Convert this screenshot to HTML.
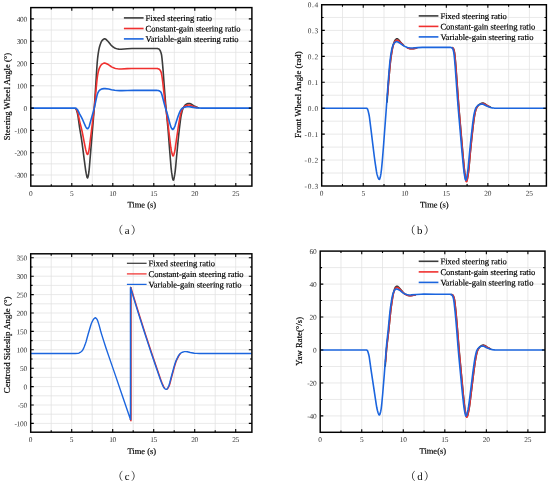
<!DOCTYPE html>
<html><head><meta charset="utf-8"><title>Figure</title>
<style>html,body{margin:0;padding:0;background:#fff}svg{display:block}text{font-family:'Liberation Serif','Noto Serif CJK SC',serif}</style>
</head><body>
<svg width="550" height="484" viewBox="0 0 550 484">
<rect width="550" height="484" fill="#fff"/>
<g><path d="M51.30,7.60V186.10M71.80,7.60V186.10M92.30,7.60V186.10M112.80,7.60V186.10M133.30,7.60V186.10M153.80,7.60V186.10M174.30,7.60V186.10M194.80,7.60V186.10M215.30,7.60V186.10M235.80,7.60V186.10M30.80,175.00H251.90M30.80,152.70H251.90M30.80,130.40H251.90M30.80,108.10H251.90M30.80,85.80H251.90M30.80,63.50H251.90M30.80,41.20H251.90M30.80,18.90H251.90M30.80,163.85H251.90M30.80,141.55H251.90M30.80,119.25H251.90M30.80,96.95H251.90M30.80,74.65H251.90M30.80,52.35H251.90M30.80,30.05H251.90" stroke="#e1e1e1" stroke-width="0.75" fill="none"/>
<clipPath id="clip0"><rect x="30.8" y="7.6" width="221.1" height="178.5"/></clipPath>
<g clip-path="url(#clip0)" fill="none" stroke-width="1.6" stroke-linejoin="round">
<path d="M75.41,108.33L75.74,108.58L75.98,108.94L76.23,109.44L76.56,110.29L77.38,113.09L77.87,115.50L78.28,118.16L79.59,127.67L81.39,138.47L82.13,143.28L84.26,159.92L85.66,170.27L86.15,173.17L86.81,176.35L87.05,177.23L87.22,177.63L87.38,177.84L87.54,177.86L87.71,177.67L87.95,177.06L88.20,176.12L88.53,174.50L88.94,171.72L89.35,167.55L94.19,109.07L94.92,98.27L96.81,68.19L97.22,62.52L97.55,58.90L97.88,56.04L98.29,53.07L98.70,50.57L99.19,48.13L99.68,46.25L100.25,44.44L100.91,42.71L101.48,41.52L101.89,40.87L102.30,40.36L103.04,39.60L103.62,39.13L104.03,38.90L104.44,38.78L104.85,38.79L105.26,38.92L105.75,39.21L106.24,39.61L108.13,41.45L108.95,42.40L111.16,45.29L111.82,45.96L112.80,46.74L114.19,47.71L115.42,48.34L116.00,48.53L116.98,48.78L118.79,49.13L119.85,49.22L121.08,49.21L127.31,48.68L131.99,48.50L135.27,48.45L144.62,48.56L157.33,48.56L157.74,48.60L158.15,48.70L158.56,48.89L159.05,49.19L159.54,49.64L160.03,50.38L160.52,51.42L161.02,52.79L161.34,53.97L161.59,55.20L162.00,58.31L162.49,63.40L163.07,70.13L164.38,87.89L165.69,104.26L168.07,129.75L169.63,149.97L171.02,167.05L171.59,172.20L172.33,176.97L172.82,179.24L173.07,179.89L173.23,180.09L173.32,180.12L173.48,180.02L173.73,179.52L174.14,177.91L174.79,174.18L175.28,170.59L175.69,166.65L176.76,154.73L178.40,137.68L179.30,129.39L180.37,120.56L180.86,117.16L181.35,114.45L182.09,111.26L182.75,109.11L183.24,107.97L183.98,106.69L184.71,105.64L185.45,104.82L186.03,104.36L186.68,104.03L187.91,103.62L188.90,103.44L189.72,103.47L190.54,103.74L191.36,104.20L193.57,105.66L196.44,106.99L197.83,107.49L199.23,107.76" stroke="#3c3c3c"/>
<path d="M75.74,108.42L75.98,108.66L76.23,108.99L76.80,110.06L77.46,111.64L77.87,113.01L78.28,114.78L79.59,121.09L81.39,128.27L82.13,131.46L84.26,142.51L85.66,149.38L86.15,151.31L86.81,153.42L87.05,154.00L87.22,154.27L87.38,154.41L87.54,154.42L87.71,154.30L87.95,153.89L88.20,153.27L88.53,152.19L88.94,150.35L89.35,147.57L94.19,108.76L94.92,101.60L96.81,81.71L97.22,77.97L97.55,75.60L97.88,73.72L98.29,71.80L98.70,70.18L99.11,68.85L99.52,67.80L100.09,66.63L100.66,65.65L101.24,64.86L101.65,64.43L102.06,64.10L103.37,63.37L103.86,63.19L104.27,63.09L104.68,63.07L105.17,63.14L106.08,63.45L108.29,64.57L109.11,65.09L111.41,66.75L112.06,67.11L113.62,67.80L114.77,68.24L115.75,68.51L117.64,68.81L119.11,68.97L121.25,68.99L127.23,68.65L131.74,68.52L134.86,68.49L144.37,68.56L157.08,68.57L157.90,68.66L158.80,68.98L159.29,69.28L159.79,69.77L160.28,70.47L160.77,71.38L161.10,72.16L161.34,72.97L161.75,75.04L162.25,78.42L162.82,82.89L164.13,94.68L165.44,105.55L167.82,122.48L169.38,135.90L170.77,147.24L171.35,150.66L172.09,153.83L172.58,155.34L172.82,155.77L173.07,155.92L173.23,155.85L173.48,155.52L173.89,154.46L174.55,151.98L175.04,149.59L175.45,146.98L176.51,139.06L178.15,127.74L178.97,122.71L180.04,116.78L180.53,114.46L181.02,112.59L181.68,110.63L182.34,109.08L182.83,108.24L183.40,107.52L184.22,106.68L185.04,106.03L185.62,105.69L186.27,105.44L187.42,105.17L188.40,105.03L189.31,105.01L190.21,105.18L191.03,105.47L193.49,106.54L196.03,107.32L197.42,107.66" stroke="#f0302f"/>
<path d="M30.80,108.10L74.10,108.10L75.24,108.15L75.82,108.27L76.31,108.55L76.88,109.05L77.46,109.68L77.87,110.30L78.28,111.09L79.59,113.91L81.39,117.12L82.13,118.55L84.26,123.49L85.66,126.57L86.15,127.43L86.81,128.37L87.22,128.75L87.54,128.82L87.71,128.76L87.95,128.58L88.53,127.82L88.94,127.00L89.35,125.76L94.19,108.41L94.84,105.59L96.81,96.37L97.14,95.02L97.47,93.91L97.79,93.04L98.12,92.33L98.53,91.58L98.94,90.97L99.35,90.49L99.76,90.12L100.34,89.69L100.83,89.40L101.57,89.08L102.30,88.90L103.94,88.66L105.09,88.64L108.62,89.08L111.57,89.76L114.77,90.29L116.74,90.47L119.52,90.61L121.90,90.60L127.23,90.45L133.71,90.38L156.67,90.42L157.90,90.50L158.56,90.62L159.05,90.77L159.54,91.00L160.03,91.33L160.52,91.75L160.85,92.13L161.10,92.54L161.34,93.10L161.75,94.29L162.41,96.52L163.80,102.10L165.12,106.96L167.49,114.53L169.05,120.53L170.45,125.61L171.02,127.14L171.76,128.56L172.25,129.23L172.50,129.42L172.74,129.49L172.91,129.46L173.15,129.31L173.56,128.83L174.22,127.73L174.71,126.66L175.12,125.49L176.27,121.69L177.99,116.41L179.38,112.76L180.29,110.79L180.70,110.11L181.19,109.43L181.68,108.86L182.17,108.40L182.66,108.06L183.40,107.68L184.22,107.34L184.96,107.10L185.78,106.93L187.09,106.79L188.32,106.72L189.22,106.73L190.45,106.88L193.16,107.40L196.44,107.84L198.16,107.97L201.61,108.09L251.87,108.10" stroke="#1b65de"/>
</g>
<path d="M71.80,186.10v-3.1M71.80,7.60v3.1M112.80,186.10v-3.1M112.80,7.60v3.1M153.80,186.10v-3.1M153.80,7.60v3.1M194.80,186.10v-3.1M194.80,7.60v3.1M235.80,186.10v-3.1M235.80,7.60v3.1M30.80,175.00h3.1M251.90,175.00h-3.1M30.80,152.70h3.1M251.90,152.70h-3.1M30.80,130.40h3.1M251.90,130.40h-3.1M30.80,108.10h3.1M251.90,108.10h-3.1M30.80,85.80h3.1M251.90,85.80h-3.1M30.80,63.50h3.1M251.90,63.50h-3.1M30.80,41.20h3.1M251.90,41.20h-3.1M30.80,18.90h3.1M251.90,18.90h-3.1M51.30,186.10v-1.9M51.30,7.60v1.9M92.30,186.10v-1.9M92.30,7.60v1.9M133.30,186.10v-1.9M133.30,7.60v1.9M174.30,186.10v-1.9M174.30,7.60v1.9M215.30,186.10v-1.9M215.30,7.60v1.9M30.80,163.85h1.9M251.90,163.85h-1.9M30.80,141.55h1.9M251.90,141.55h-1.9M30.80,119.25h1.9M251.90,119.25h-1.9M30.80,96.95h1.9M251.90,96.95h-1.9M30.80,74.65h1.9M251.90,74.65h-1.9M30.80,52.35h1.9M251.90,52.35h-1.9M30.80,30.05h1.9M251.90,30.05h-1.9" stroke="#000" stroke-width="1.1" fill="none"/>
<rect x="30.80" y="7.60" width="221.10" height="178.50" fill="none" stroke="#000" stroke-width="1.45"/>
<g font-size="7.4" fill="#333">
<text transform="translate(30.65,195.90) rotate(0.03)" text-anchor="middle" letter-spacing="-0.3">0</text>
<text transform="translate(71.65,195.90) rotate(0.03)" text-anchor="middle" letter-spacing="-0.3">5</text>
<text transform="translate(112.65,195.90) rotate(0.03)" text-anchor="middle" letter-spacing="-0.3">10</text>
<text transform="translate(153.65,195.90) rotate(0.03)" text-anchor="middle" letter-spacing="-0.3">15</text>
<text transform="translate(194.65,195.90) rotate(0.03)" text-anchor="middle" letter-spacing="-0.3">20</text>
<text transform="translate(235.65,195.90) rotate(0.03)" text-anchor="middle" letter-spacing="-0.3">25</text>
<text transform="translate(26.90,177.80) rotate(0.03)" text-anchor="end" letter-spacing="-0.3">-300</text>
<text transform="translate(26.90,155.50) rotate(0.03)" text-anchor="end" letter-spacing="-0.3">-200</text>
<text transform="translate(26.90,133.20) rotate(0.03)" text-anchor="end" letter-spacing="-0.3">-100</text>
<text transform="translate(26.90,110.90) rotate(0.03)" text-anchor="end" letter-spacing="-0.3">0</text>
<text transform="translate(26.90,88.60) rotate(0.03)" text-anchor="end" letter-spacing="-0.3">100</text>
<text transform="translate(26.90,66.30) rotate(0.03)" text-anchor="end" letter-spacing="-0.3">200</text>
<text transform="translate(26.90,44.00) rotate(0.03)" text-anchor="end" letter-spacing="-0.3">300</text>
<text transform="translate(26.90,21.70) rotate(0.03)" text-anchor="end" letter-spacing="-0.3">400</text>
</g>
<g font-size="8.55" fill="#000" stroke="#000" stroke-width="0.18">
<path d="M123.9,17.9h19.7" stroke="#3c3c3c" stroke-width="1.6" fill="none"/>
<text transform="translate(145.60,20.90) rotate(0.03)">Fixed steering ratio</text>
<path d="M123.9,28.5h19.7" stroke="#f0302f" stroke-width="1.6" fill="none"/>
<text transform="translate(145.60,31.50) rotate(0.03)">Constant-gain steering ratio</text>
<path d="M123.9,38.9h19.7" stroke="#1b65de" stroke-width="1.6" fill="none"/>
<text transform="translate(145.60,41.85) rotate(0.03)">Variable-gain steering ratio</text>
</g>
<text font-size="8.65" fill="#000" stroke="#000" stroke-width="0.18" text-anchor="middle" transform="translate(9.7,96.5) rotate(-90)">Steering Wheel Angle (°)</text>
<text transform="translate(141.80,207.40) rotate(0.03)" text-anchor="middle" font-size="8.5" stroke="#000" stroke-width="0.18">Time (s)</text>
<text transform="translate(127.10,233.90) rotate(0.03)" text-anchor="middle" font-size="10.8">（<tspan dx="1.4">a</tspan><tspan dx="1.3">）</tspan></text></g>
<g><path d="M342.47,4.75V186.00M363.24,4.75V186.00M384.01,4.75V186.00M404.78,4.75V186.00M425.55,4.75V186.00M446.32,4.75V186.00M467.09,4.75V186.00M487.86,4.75V186.00M508.63,4.75V186.00M529.40,4.75V186.00M321.70,160.06H546.40M321.70,134.13H546.40M321.70,108.20H546.40M321.70,82.27H546.40M321.70,56.34H546.40M321.70,30.41H546.40M321.70,173.03H546.40M321.70,147.09H546.40M321.70,121.17H546.40M321.70,95.23H546.40M321.70,69.31H546.40M321.70,43.38H546.40M321.70,17.45H546.40" stroke="#e1e1e1" stroke-width="0.75" fill="none"/>
<clipPath id="clip1"><rect x="321.7" y="4.75" width="224.7" height="181.25"/></clipPath>
<g clip-path="url(#clip1)" fill="none" stroke-width="1.6" stroke-linejoin="round">
<path d="M387.00,102.62L388.58,82.18L389.66,69.69L390.41,62.07L391.07,56.75L391.99,50.76L392.65,47.30L392.98,45.92L393.48,44.17L394.31,41.76L394.64,41.01L395.06,40.29L395.64,39.56L396.22,39.04L396.72,38.80L397.22,38.76L397.47,38.82L397.80,38.99L398.47,39.55L400.46,41.94L402.20,43.93L403.28,45.04L404.20,45.83M407.02,47.63L408.02,48.10L408.85,48.36L410.18,48.62L411.43,48.73L412.26,48.71L413.34,48.59L417.24,47.89M451.72,47.46L452.38,47.68L452.97,48.03L453.30,48.42L453.63,49.11L454.05,50.42L454.46,52.23L454.71,53.77L454.96,55.84L455.38,60.23L455.96,67.28L458.20,98.32L459.11,110.22L462.85,153.39L464.10,166.60L464.76,172.69L465.18,175.63L465.68,178.60L466.01,180.15L466.18,180.70L466.34,181.06L466.51,181.20L466.59,181.19L466.76,181.02L466.92,180.66L467.17,179.82L467.75,176.88L468.42,172.57L469.00,167.33L470.25,153.55L471.58,140.22L472.32,133.22L473.40,123.97L474.07,118.81L474.57,115.61L475.31,111.93L475.73,110.24L476.06,109.13L476.48,108.09L477.06,107.05L477.81,105.96L478.64,105.02L479.39,104.41L480.63,103.66L481.55,103.26L482.38,103.05L482.88,103.02L483.29,103.07L483.71,103.19L484.20,103.40L485.04,103.89L486.78,105.15L487.61,105.68L489.52,106.68L490.93,107.29" stroke="#3c3c3c"/>
<path d="M387.50,95.46L388.25,85.66L389.16,74.79L389.83,67.33L390.41,61.65L391.07,56.52L391.90,51.26L392.57,47.95L392.90,46.66L393.31,45.30L394.15,43.06L394.56,42.21L394.89,41.69L395.48,41.02L396.06,40.53L396.64,40.21L397.14,40.13L397.47,40.17L397.80,40.30L398.22,40.53L398.63,40.85L402.79,44.74L403.70,45.54M406.86,47.58L407.85,48.06L408.68,48.34L410.01,48.61L411.26,48.73L412.17,48.71L413.25,48.60L417.16,47.90M451.89,47.52L452.55,47.81L452.97,48.10L453.30,48.56L453.63,49.33L454.05,50.73L454.38,52.23L454.63,53.77L454.88,55.84L455.29,60.23L455.87,67.28L458.12,98.32L459.03,110.23L462.77,153.52L464.02,166.87L464.68,173.05L465.01,175.49L465.51,178.59L465.84,180.29L466.18,181.41L466.34,181.67L466.43,181.71L466.59,181.65L466.84,181.18L467.09,180.33L467.42,178.77L467.75,176.88L468.42,172.35L469.00,166.81L470.33,152.03L471.83,137.11L473.40,123.32L473.90,119.43L474.32,116.63L474.73,114.31L475.23,111.97L475.65,110.30L476.06,108.96L476.48,108.01L477.06,107.04L477.72,106.13L478.39,105.41M480.88,103.94L481.63,103.69L482.38,103.56L483.04,103.56L483.71,103.71L484.79,104.21L487.36,105.78L489.94,106.96" stroke="#f0302f"/>
<path d="M321.70,108.20L365.57,108.20L366.15,108.24L366.65,108.34L366.98,108.47L367.23,108.68L367.48,109.06L367.73,109.64L368.31,111.58L368.97,114.45L369.47,117.39L371.13,130.57L372.79,144.46L374.29,156.48L375.12,162.59L376.45,171.38L376.78,173.18L377.11,174.63L377.86,177.01L378.28,178.08L378.69,178.91L379.03,179.32L379.19,179.42L379.36,179.41L379.52,179.29L379.69,179.02L380.02,178.09L380.52,175.96L380.94,173.68L381.52,169.08L382.35,160.39L383.43,147.05L386.25,109.26L388.08,83.40L389.16,69.85L389.83,62.65L390.24,59.04L390.66,55.98L391.15,52.75L391.65,50.02L392.07,48.21L392.48,46.80L393.07,45.20L393.65,43.94L393.98,43.39L394.31,42.97L394.81,42.51L395.39,42.08L395.89,41.80L396.31,41.67L396.72,41.63L397.14,41.69L397.72,41.89L398.47,42.30L400.54,43.59L403.37,45.63L405.69,46.84L406.77,47.29L407.69,47.57L409.18,47.81L410.60,47.96L412.59,47.96L417.82,47.59L422.31,47.40L425.22,47.34L450.31,47.40L451.06,47.48L451.80,47.76L452.22,48.03L452.55,48.42L452.80,48.91L453.13,49.84L453.46,51.07L453.80,52.69L454.21,55.84L454.63,60.23L455.21,67.28L457.45,98.32L458.37,110.21L462.11,153.07L463.43,166.81L464.10,172.54L464.60,175.78L465.10,178.46L465.43,179.69L465.59,180.03L465.76,180.16L465.93,180.09L466.18,179.62L466.59,178.09L467.34,173.98L467.84,170.48L468.34,165.81L469.58,152.33L471.16,136.93L472.66,123.96L473.57,117.15L473.99,114.75L474.40,112.74L474.90,110.65L475.31,109.26L475.73,108.25L476.23,107.40L476.89,106.48L477.64,105.69L478.06,105.36L478.56,105.05L480.13,104.40L481.38,104.10L481.96,104.06L482.46,104.09L483.04,104.21L483.62,104.42L486.61,105.95L489.27,107.01L490.52,107.46L491.43,107.70L492.26,107.85L494.09,108.08L495.59,108.19L546.35,108.20" stroke="#1b65de"/>
</g>
<path d="M363.24,186.00v-3.1M363.24,4.75v3.1M404.78,186.00v-3.1M404.78,4.75v3.1M446.32,186.00v-3.1M446.32,4.75v3.1M487.86,186.00v-3.1M487.86,4.75v3.1M529.40,186.00v-3.1M529.40,4.75v3.1M321.70,160.06h3.1M546.40,160.06h-3.1M321.70,134.13h3.1M546.40,134.13h-3.1M321.70,108.20h3.1M546.40,108.20h-3.1M321.70,82.27h3.1M546.40,82.27h-3.1M321.70,56.34h3.1M546.40,56.34h-3.1M321.70,30.41h3.1M546.40,30.41h-3.1M342.47,186.00v-1.9M342.47,4.75v1.9M384.01,186.00v-1.9M384.01,4.75v1.9M425.55,186.00v-1.9M425.55,4.75v1.9M467.09,186.00v-1.9M467.09,4.75v1.9M508.63,186.00v-1.9M508.63,4.75v1.9M321.70,173.03h1.9M546.40,173.03h-1.9M321.70,147.09h1.9M546.40,147.09h-1.9M321.70,121.17h1.9M546.40,121.17h-1.9M321.70,95.23h1.9M546.40,95.23h-1.9M321.70,69.31h1.9M546.40,69.31h-1.9M321.70,43.38h1.9M546.40,43.38h-1.9M321.70,17.45h1.9M546.40,17.45h-1.9" stroke="#000" stroke-width="1.1" fill="none"/>
<rect x="321.70" y="4.75" width="224.70" height="181.25" fill="none" stroke="#000" stroke-width="1.45"/>
<g font-size="7.4" fill="#333">
<text transform="translate(321.55,195.80) rotate(0.03)" text-anchor="middle" letter-spacing="-0.3">0</text>
<text transform="translate(363.09,195.80) rotate(0.03)" text-anchor="middle" letter-spacing="-0.3">5</text>
<text transform="translate(404.63,195.80) rotate(0.03)" text-anchor="middle" letter-spacing="-0.3">10</text>
<text transform="translate(446.17,195.80) rotate(0.03)" text-anchor="middle" letter-spacing="-0.3">15</text>
<text transform="translate(487.71,195.80) rotate(0.03)" text-anchor="middle" letter-spacing="-0.3">20</text>
<text transform="translate(529.25,195.80) rotate(0.03)" text-anchor="middle" letter-spacing="-0.3">25</text>
<text transform="translate(318.70,188.79) rotate(0.03)" text-anchor="end" letter-spacing="0.6">-0.3</text>
<text transform="translate(318.70,162.86) rotate(0.03)" text-anchor="end" letter-spacing="0.6">-0.2</text>
<text transform="translate(318.70,136.93) rotate(0.03)" text-anchor="end" letter-spacing="0.6">-0.1</text>
<text transform="translate(318.70,111.00) rotate(0.03)" text-anchor="end" letter-spacing="0.6">0.0</text>
<text transform="translate(318.70,85.07) rotate(0.03)" text-anchor="end" letter-spacing="0.6">0.1</text>
<text transform="translate(318.70,59.14) rotate(0.03)" text-anchor="end" letter-spacing="0.6">0.2</text>
<text transform="translate(318.70,33.21) rotate(0.03)" text-anchor="end" letter-spacing="0.6">0.3</text>
<text transform="translate(318.70,7.28) rotate(0.03)" text-anchor="end" letter-spacing="0.6">0.4</text>
</g>
<g font-size="8.55" fill="#000" stroke="#000" stroke-width="0.18">
<path d="M418.7,15.9h19.7" stroke="#3c3c3c" stroke-width="1.6" fill="none"/>
<text transform="translate(440.40,18.90) rotate(0.03)">Fixed steering ratio</text>
<path d="M418.7,26.4h19.7" stroke="#f0302f" stroke-width="1.6" fill="none"/>
<text transform="translate(440.40,29.40) rotate(0.03)">Constant-gain steering ratio</text>
<path d="M418.7,36.9h19.7" stroke="#1b65de" stroke-width="1.6" fill="none"/>
<text transform="translate(440.40,39.90) rotate(0.03)">Variable-gain steering ratio</text>
</g>
<text font-size="8.8" fill="#000" stroke="#000" stroke-width="0.18" text-anchor="middle" transform="translate(300.6,94.6) rotate(-90)">Front Wheel Angle (rad)</text>
<text transform="translate(434.30,207.40) rotate(0.03)" text-anchor="middle" font-size="8.5" stroke="#000" stroke-width="0.18">Time (s)</text>
<text transform="translate(419.60,233.90) rotate(0.03)" text-anchor="middle" font-size="10.8">（<tspan dx="1.4">b</tspan><tspan dx="1.3">）</tspan></text></g>
<g><path d="M51.20,253.80V432.20M71.70,253.80V432.20M92.20,253.80V432.20M112.70,253.80V432.20M133.20,253.80V432.20M153.70,253.80V432.20M174.20,253.80V432.20M194.70,253.80V432.20M215.20,253.80V432.20M235.70,253.80V432.20M30.70,423.40H251.90M30.70,405.00H251.90M30.70,386.60H251.90M30.70,368.20H251.90M30.70,349.80H251.90M30.70,331.40H251.90M30.70,313.00H251.90M30.70,294.60H251.90M30.70,276.20H251.90M30.70,257.80H251.90M30.70,414.20H251.90M30.70,395.80H251.90M30.70,377.40H251.90M30.70,359.00H251.90M30.70,340.60H251.90M30.70,322.20H251.90M30.70,303.80H251.90M30.70,285.40H251.90M30.70,267.00H251.90" stroke="#e1e1e1" stroke-width="0.75" fill="none"/>
<clipPath id="clip2"><rect x="30.7" y="253.8" width="221.20000000000002" height="178.39999999999998"/></clipPath>
<g clip-path="url(#clip2)" fill="none" stroke-width="1.4" stroke-linejoin="round">
<path d="M130.33,419.06L130.66,420.01L130.66,287.42L130.90,288.26" stroke="#3c3c3c"/>
<path d="M130.33,419.06L130.90,420.72L130.90,287.42L135.66,303.24L140.58,319.05L145.75,335.12L151.24,351.70L155.75,364.99L161.49,381.63L162.15,383.28L163.54,386.37L164.20,387.55L164.77,388.26M166.98,389.31L167.48,388.88L168.13,387.92L169.03,386.27L169.53,384.99L170.10,383.04L171.58,377.25L174.45,366.72L175.27,363.93L176.00,361.77L176.41,360.76L177.23,359.00L178.55,356.41L179.61,354.68L180.10,354.04L180.51,353.61" stroke="#f0302f"/>
<path d="M30.70,353.48L75.39,353.47L78.10,353.33L78.83,353.09L80.06,352.47L80.72,352.06L81.38,351.55L81.95,350.99L82.52,350.33L82.93,349.70L83.34,348.92L84.25,346.83L85.56,343.32L86.13,341.55L88.26,333.81L90.64,325.69L91.38,323.55L92.12,321.83L93.02,320.03L93.43,319.38L93.76,318.97L94.50,318.25L94.99,317.89L95.40,317.78L95.56,317.81L95.81,317.93L96.30,318.39L97.04,319.38L97.45,320.21L97.86,321.32L99.01,324.90L100.65,331.00L101.71,334.58L103.76,341.14L105.98,347.93L108.93,356.65L115.24,374.89L123.20,398.29L130.49,419.54L130.49,287.42L133.69,298.12L137.05,309.10L140.50,320.08L144.02,331.08L147.63,342.11L151.32,353.16L160.42,379.78L161.65,383.09L162.80,385.68L163.46,387.00L163.87,387.67L164.28,388.18L165.02,388.82L165.59,389.21L166.00,389.37L166.33,389.39L166.66,389.26L166.98,388.97L167.39,388.44L167.97,387.49L168.54,386.44L168.95,385.46L169.69,383.04L171.17,377.25L174.28,365.85L175.27,362.68L176.09,360.58L177.15,358.32L177.97,356.71L178.71,355.42L179.45,354.34L180.02,353.69L180.51,353.27L181.50,352.72L182.56,352.23L183.47,351.89L184.37,351.67L185.11,351.58L185.93,351.58L187.32,351.80L190.27,352.50L194.37,353.20L196.09,353.36L199.54,353.45L251.85,353.48" stroke="#1b65de"/>
</g>
<path d="M71.70,432.20v-3.1M71.70,253.80v3.1M112.70,432.20v-3.1M112.70,253.80v3.1M153.70,432.20v-3.1M153.70,253.80v3.1M194.70,432.20v-3.1M194.70,253.80v3.1M235.70,432.20v-3.1M235.70,253.80v3.1M30.70,423.40h3.1M251.90,423.40h-3.1M30.70,405.00h3.1M251.90,405.00h-3.1M30.70,386.60h3.1M251.90,386.60h-3.1M30.70,368.20h3.1M251.90,368.20h-3.1M30.70,349.80h3.1M251.90,349.80h-3.1M30.70,331.40h3.1M251.90,331.40h-3.1M30.70,313.00h3.1M251.90,313.00h-3.1M30.70,294.60h3.1M251.90,294.60h-3.1M30.70,276.20h3.1M251.90,276.20h-3.1M30.70,257.80h3.1M251.90,257.80h-3.1M51.20,432.20v-1.9M51.20,253.80v1.9M92.20,432.20v-1.9M92.20,253.80v1.9M133.20,432.20v-1.9M133.20,253.80v1.9M174.20,432.20v-1.9M174.20,253.80v1.9M215.20,432.20v-1.9M215.20,253.80v1.9M30.70,414.20h1.9M251.90,414.20h-1.9M30.70,395.80h1.9M251.90,395.80h-1.9M30.70,377.40h1.9M251.90,377.40h-1.9M30.70,359.00h1.9M251.90,359.00h-1.9M30.70,340.60h1.9M251.90,340.60h-1.9M30.70,322.20h1.9M251.90,322.20h-1.9M30.70,303.80h1.9M251.90,303.80h-1.9M30.70,285.40h1.9M251.90,285.40h-1.9M30.70,267.00h1.9M251.90,267.00h-1.9" stroke="#000" stroke-width="1.1" fill="none"/>
<rect x="30.70" y="253.80" width="221.20" height="178.40" fill="none" stroke="#000" stroke-width="1.45"/>
<g font-size="7.4" fill="#333">
<text transform="translate(30.55,442.00) rotate(0.03)" text-anchor="middle" letter-spacing="-0.3">0</text>
<text transform="translate(71.55,442.00) rotate(0.03)" text-anchor="middle" letter-spacing="-0.3">5</text>
<text transform="translate(112.55,442.00) rotate(0.03)" text-anchor="middle" letter-spacing="-0.3">10</text>
<text transform="translate(153.55,442.00) rotate(0.03)" text-anchor="middle" letter-spacing="-0.3">15</text>
<text transform="translate(194.55,442.00) rotate(0.03)" text-anchor="middle" letter-spacing="-0.3">20</text>
<text transform="translate(235.55,442.00) rotate(0.03)" text-anchor="middle" letter-spacing="-0.3">25</text>
<text transform="translate(26.80,426.20) rotate(0.03)" text-anchor="end" letter-spacing="-0.3">-100</text>
<text transform="translate(26.80,407.80) rotate(0.03)" text-anchor="end" letter-spacing="-0.3">-50</text>
<text transform="translate(26.80,389.40) rotate(0.03)" text-anchor="end" letter-spacing="-0.3">0</text>
<text transform="translate(26.80,371.00) rotate(0.03)" text-anchor="end" letter-spacing="-0.3">50</text>
<text transform="translate(26.80,352.60) rotate(0.03)" text-anchor="end" letter-spacing="-0.3">100</text>
<text transform="translate(26.80,334.20) rotate(0.03)" text-anchor="end" letter-spacing="-0.3">150</text>
<text transform="translate(26.80,315.80) rotate(0.03)" text-anchor="end" letter-spacing="-0.3">200</text>
<text transform="translate(26.80,297.40) rotate(0.03)" text-anchor="end" letter-spacing="-0.3">250</text>
<text transform="translate(26.80,279.00) rotate(0.03)" text-anchor="end" letter-spacing="-0.3">300</text>
<text transform="translate(26.80,260.60) rotate(0.03)" text-anchor="end" letter-spacing="-0.3">350</text>
</g>
<g font-size="8.55" fill="#000" stroke="#000" stroke-width="0.18">
<path d="M126.9,263.3h19.7" stroke="#3c3c3c" stroke-width="1.25" fill="none"/>
<text transform="translate(148.60,266.30) rotate(0.03)">Fixed steering ratio</text>
<path d="M126.9,273.9h19.7" stroke="#f0302f" stroke-width="1.25" fill="none"/>
<text transform="translate(148.60,276.90) rotate(0.03)">Constant-gain steering ratio</text>
<path d="M126.9,284.4h19.7" stroke="#1b65de" stroke-width="1.25" fill="none"/>
<text transform="translate(148.60,287.40) rotate(0.03)">Variable-gain steering ratio</text>
</g>
<text font-size="8.85" fill="#000" stroke="#000" stroke-width="0.18" text-anchor="middle" transform="translate(9.7,344.9) rotate(-90)">Centroid Sideslip Angle (°)</text>
<text transform="translate(141.80,454.00) rotate(0.03)" text-anchor="middle" font-size="8.5" stroke="#000" stroke-width="0.18">Time (s)</text>
<text transform="translate(127.10,480.00) rotate(0.03)" text-anchor="middle" font-size="10.8">（<tspan dx="1.4">c</tspan><tspan dx="1.3">）</tspan></text></g>
<g><path d="M340.97,251.10V432.30M361.74,251.10V432.30M382.51,251.10V432.30M403.28,251.10V432.30M424.05,251.10V432.30M444.82,251.10V432.30M465.59,251.10V432.30M486.36,251.10V432.30M507.13,251.10V432.30M527.90,251.10V432.30M320.20,415.92H545.00M320.20,382.96H545.00M320.20,350.00H545.00M320.20,317.04H545.00M320.20,284.08H545.00M320.20,399.44H545.00M320.20,366.48H545.00M320.20,333.52H545.00M320.20,300.56H545.00M320.20,267.60H545.00" stroke="#e1e1e1" stroke-width="0.75" fill="none"/>
<clipPath id="clip3"><rect x="320.2" y="251.1" width="224.8" height="181.20000000000002"/></clipPath>
<g clip-path="url(#clip3)" fill="none" stroke-width="1.6" stroke-linejoin="round">
<path d="M385.17,366.78L386.25,352.85L386.66,348.23L387.25,342.91L388.74,330.47L390.32,314.63L390.98,308.67L392.15,300.38L393.06,294.93L393.48,292.93L393.89,291.29L394.47,289.41L394.97,288.10L395.30,287.42L395.55,287.05L395.80,286.78L396.14,286.54L396.55,286.35L396.97,286.28L397.38,286.33L397.80,286.51L398.21,286.81L398.71,287.29L402.62,291.86L403.45,292.76L404.19,293.47L404.86,293.99L405.52,294.38L406.85,294.99L407.93,295.39L408.68,295.59L409.34,295.70L410.01,295.75L410.67,295.72L412.25,295.51L415.99,294.77M451.22,294.37L451.96,294.59L452.63,294.94L453.04,295.36L453.38,295.95L453.88,297.25L454.29,298.72L454.62,300.42L454.87,302.15L455.62,308.83L456.37,316.46L457.45,328.98L458.78,345.93L459.36,352.81L463.26,394.00L464.34,404.13L465.01,409.42L465.42,411.90L466.01,414.71L466.34,415.92L466.50,416.34L466.67,416.61L466.75,416.69L466.92,416.72L467.17,416.48L467.42,415.96L467.67,415.22L468.08,413.61L468.58,411.39L469.25,407.88L469.66,405.12L470.24,400.69L473.65,372.92L475.06,362.60L475.64,358.82L476.22,355.70L476.97,352.49L477.55,350.56L477.97,349.58L478.55,348.56L479.22,347.61L479.88,346.86L480.63,346.23L481.62,345.60L482.37,345.26L483.12,345.08L483.87,345.13L484.70,345.43L485.53,345.93L487.27,347.21L488.10,347.74L489.77,348.54L491.26,349.13" stroke="#3c3c3c"/>
<path d="M385.50,362.21L386.17,353.38L386.66,347.78L387.16,343.19L388.66,330.69L390.24,314.89L390.90,309.00L391.98,301.45L392.48,298.39L392.98,295.70L393.31,294.16L393.73,292.56L394.31,290.77L394.81,289.50L395.14,288.83L395.39,288.45L395.72,288.09L396.05,287.86L396.55,287.63L396.97,287.53L397.46,287.55L397.88,287.69L398.46,288.04L399.13,288.61L401.12,290.50L403.45,292.88L404.53,293.82L405.27,294.29L406.35,294.80L407.43,295.24L408.43,295.55L409.68,295.74L410.92,295.70L412.34,295.49L415.91,294.78M451.38,294.42L452.21,294.74L452.71,295.07L453.13,295.63L453.46,296.33L453.96,297.79L454.29,299.09L454.54,300.42L454.87,302.81L455.62,309.62L456.29,316.46L457.37,328.98L458.69,345.93L459.28,352.81L463.18,394.16L464.26,404.41L464.93,409.77L465.34,412.30L465.84,414.80L466.17,416.13L466.50,416.99L466.67,417.18L466.75,417.22L466.84,417.21L467.00,417.09L467.25,416.66L467.58,415.70L468.00,414.07L468.58,411.39L469.25,407.69L470.08,401.57L473.73,371.67L475.06,362.06L475.89,357.00L476.31,355.00L476.81,352.91L477.22,351.42L477.55,350.47L477.97,349.59L478.47,348.77L479.05,347.97L479.63,347.34M481.87,345.90L482.54,345.67L483.12,345.57L483.70,345.59L484.28,345.73L485.36,346.25L487.19,347.42L487.94,347.85L490.26,348.83" stroke="#f0302f"/>
<path d="M320.20,350.00L365.56,350.00L366.23,350.03L366.81,350.13L367.06,350.23L367.31,350.45L367.56,350.84L367.80,351.41L368.30,352.95L368.88,355.20L369.30,357.32L371.13,370.34L376.28,404.55L376.86,408.03L377.44,410.55L377.94,412.27L378.36,413.52L378.69,414.30L378.94,414.71L379.19,414.94L379.44,414.94L379.69,414.68L380.02,413.94L380.35,412.84L380.68,411.47L381.18,408.81L381.68,404.70L382.68,394.05L384.34,373.86L386.25,348.28L386.75,343.19L388.08,331.14L389.57,315.41L390.15,310.02L390.57,306.84L391.23,302.37L391.73,299.36L392.23,296.75L392.65,294.95L393.06,293.52L393.73,291.73L394.31,290.53L394.56,290.15L394.89,289.78L395.22,289.55L395.72,289.29L396.22,289.12L396.63,289.05L397.05,289.06L397.46,289.15L398.30,289.51L400.21,290.65L401.04,291.26L403.03,292.89L404.11,293.58L405.02,293.95L406.85,294.53L408.02,294.80L409.01,294.93L411.01,294.92L416.32,294.48L420.98,294.21L423.72,294.13L435.43,294.29L449.72,294.30L450.47,294.38L451.30,294.66L451.88,295.00L452.21,295.36L452.55,295.95L452.96,297.00L453.38,298.39L453.63,299.49L454.12,302.81L455.04,311.25L455.79,319.24L456.70,329.99L458.03,346.95L458.78,355.57L461.77,387.08L462.52,394.56L463.60,404.45L464.26,409.45L464.76,412.18L465.26,414.42L465.67,415.69L465.84,415.96L466.01,416.06L466.09,416.06L466.25,415.94L466.50,415.52L467.00,414.01L468.00,409.71L468.58,406.44L469.49,399.78L472.98,371.65L474.23,362.65L475.06,357.49L475.89,353.65L476.31,352.08L476.72,350.81L477.14,349.89L477.64,349.08L478.30,348.21L478.97,347.56L479.80,346.99L481.21,346.34L482.21,346.08L483.04,346.09L483.70,346.25L484.37,346.51L486.53,347.69L487.36,348.09L490.68,349.26L491.59,349.50L492.51,349.66L494.58,349.88L496.25,349.98L544.93,350.00" stroke="#1b65de"/>
</g>
<path d="M361.74,432.30v-3.1M361.74,251.10v3.1M403.28,432.30v-3.1M403.28,251.10v3.1M444.82,432.30v-3.1M444.82,251.10v3.1M486.36,432.30v-3.1M486.36,251.10v3.1M527.90,432.30v-3.1M527.90,251.10v3.1M320.20,415.92h3.1M545.00,415.92h-3.1M320.20,382.96h3.1M545.00,382.96h-3.1M320.20,350.00h3.1M545.00,350.00h-3.1M320.20,317.04h3.1M545.00,317.04h-3.1M320.20,284.08h3.1M545.00,284.08h-3.1M340.97,432.30v-1.9M340.97,251.10v1.9M382.51,432.30v-1.9M382.51,251.10v1.9M424.05,432.30v-1.9M424.05,251.10v1.9M465.59,432.30v-1.9M465.59,251.10v1.9M507.13,432.30v-1.9M507.13,251.10v1.9M320.20,399.44h1.9M545.00,399.44h-1.9M320.20,366.48h1.9M545.00,366.48h-1.9M320.20,333.52h1.9M545.00,333.52h-1.9M320.20,300.56h1.9M545.00,300.56h-1.9M320.20,267.60h1.9M545.00,267.60h-1.9" stroke="#000" stroke-width="1.1" fill="none"/>
<rect x="320.20" y="251.10" width="224.80" height="181.20" fill="none" stroke="#000" stroke-width="1.45"/>
<g font-size="7.4" fill="#333">
<text transform="translate(320.05,442.10) rotate(0.03)" text-anchor="middle" letter-spacing="-0.3">0</text>
<text transform="translate(361.59,442.10) rotate(0.03)" text-anchor="middle" letter-spacing="-0.3">5</text>
<text transform="translate(403.13,442.10) rotate(0.03)" text-anchor="middle" letter-spacing="-0.3">10</text>
<text transform="translate(444.67,442.10) rotate(0.03)" text-anchor="middle" letter-spacing="-0.3">15</text>
<text transform="translate(486.21,442.10) rotate(0.03)" text-anchor="middle" letter-spacing="-0.3">20</text>
<text transform="translate(527.75,442.10) rotate(0.03)" text-anchor="middle" letter-spacing="-0.3">25</text>
<text transform="translate(316.30,418.72) rotate(0.03)" text-anchor="end" letter-spacing="-0.3">-40</text>
<text transform="translate(316.30,385.76) rotate(0.03)" text-anchor="end" letter-spacing="-0.3">-20</text>
<text transform="translate(316.30,352.80) rotate(0.03)" text-anchor="end" letter-spacing="-0.3">0</text>
<text transform="translate(316.30,319.84) rotate(0.03)" text-anchor="end" letter-spacing="-0.3">20</text>
<text transform="translate(316.30,286.88) rotate(0.03)" text-anchor="end" letter-spacing="-0.3">40</text>
<text transform="translate(316.30,253.92) rotate(0.03)" text-anchor="end" letter-spacing="-0.3">60</text>
</g>
<g font-size="8.55" fill="#000" stroke="#000" stroke-width="0.18">
<path d="M418.7,261.3h19.7" stroke="#3c3c3c" stroke-width="1.6" fill="none"/>
<text transform="translate(440.40,264.30) rotate(0.03)">Fixed steering ratio</text>
<path d="M418.7,271.9h19.7" stroke="#f0302f" stroke-width="1.6" fill="none"/>
<text transform="translate(440.40,274.90) rotate(0.03)">Constant-gain steering ratio</text>
<path d="M418.7,282.4h19.7" stroke="#1b65de" stroke-width="1.6" fill="none"/>
<text transform="translate(440.40,285.40) rotate(0.03)">Variable-gain steering ratio</text>
</g>
<text font-size="8.7" fill="#000" stroke="#000" stroke-width="0.18" text-anchor="middle" transform="translate(302.0,341.3) rotate(-90)">Yaw Rate(°/s)</text>
<text transform="translate(432.80,453.80) rotate(0.03)" text-anchor="middle" font-size="8.5" stroke="#000" stroke-width="0.18">Time(s)</text>
<text transform="translate(419.80,480.00) rotate(0.03)" text-anchor="middle" font-size="10.8">（<tspan dx="1.4">d</tspan><tspan dx="1.3">）</tspan></text></g>
</svg>
</body></html>
